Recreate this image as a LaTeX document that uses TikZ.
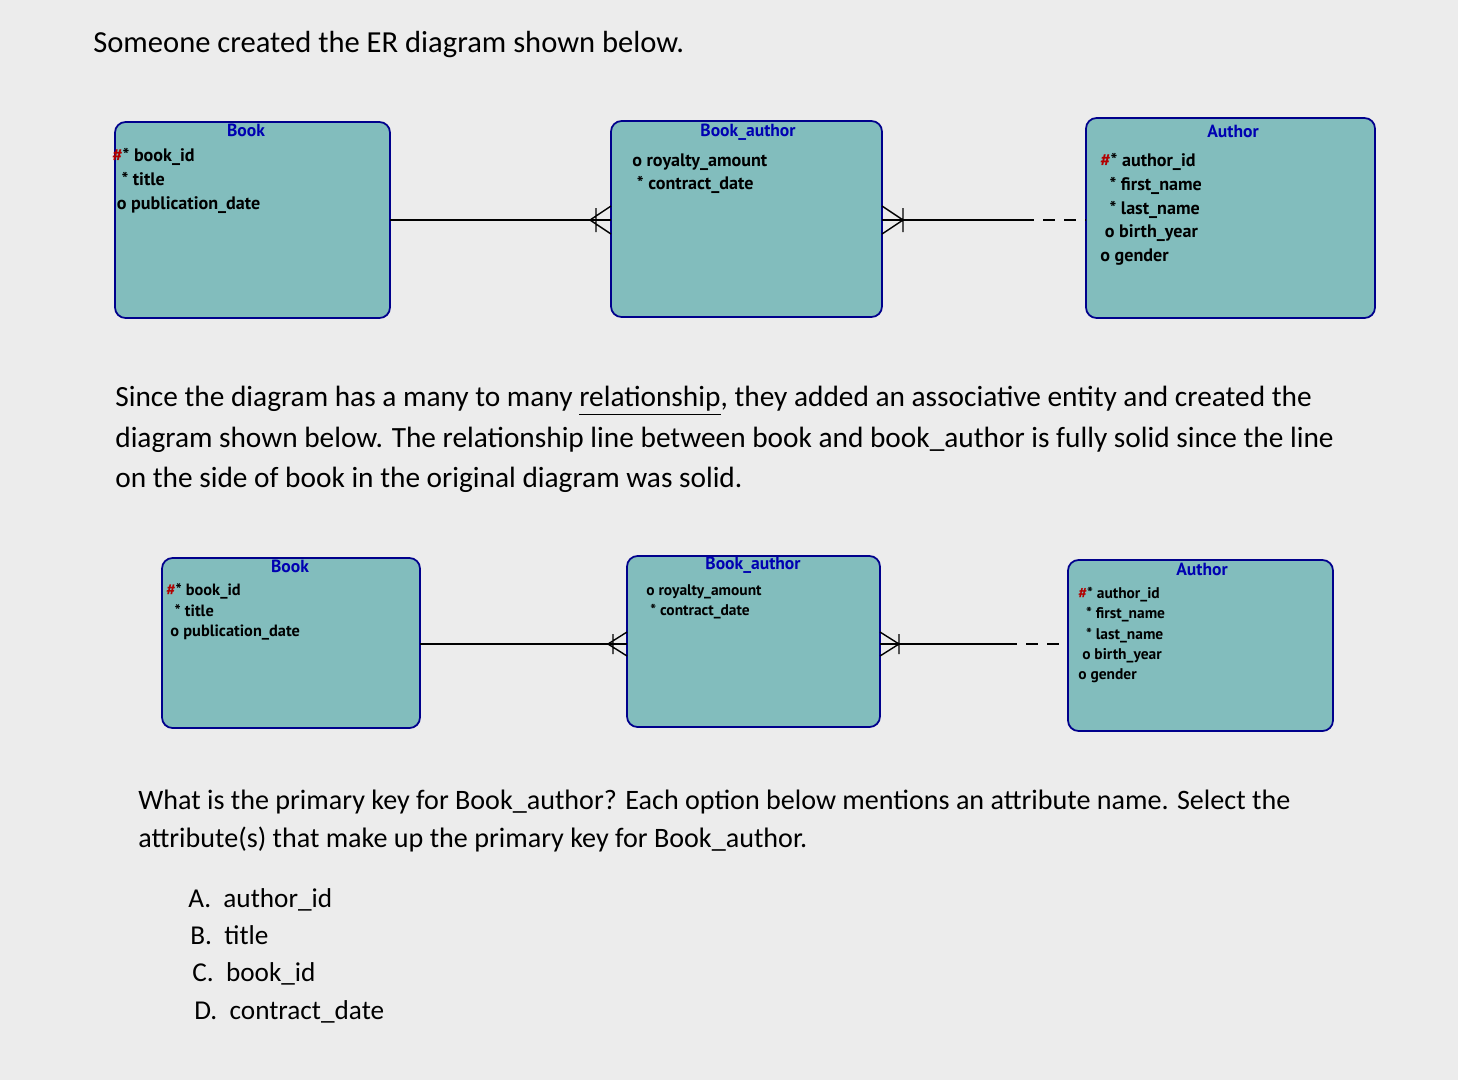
\documentclass[tikz,border=0pt]{standalone}
\usepackage{fontspec}
\setmainfont{Carlito}
\newfontfamily\boxfont{PT Sans}
\begin{document}
\begin{tikzpicture}[x=0.02cm,y=-0.02cm,
  ent/.style={draw=blue!55!black,line width=1pt,fill=teal!35!cyan!40!gray!70,rounded corners=6pt},
  ttl/.style={font=\boxfont\bfseries\fontsize{10}{10}\selectfont,text=blue!70!black,inner sep=0},
  attr/.style={font=\boxfont\bfseries\fontsize{10.3}{13.5}\selectfont,align=left,anchor=north west,inner sep=0},
  para/.style={font=\fontsize{16.7}{23}\selectfont,align=left,anchor=north west,inner sep=0},
  rel/.style={line width=0.8pt}]
\fill[gray!15] (0,0) rectangle (1458,1080);
\useasboundingbox (0,0) rectangle (1458,1080);
\node[anchor=west,font=\fontsize{17.4}{18}\selectfont,inner sep=0] (t1) at (93,45) {Someone created the ER diagram shown below.};
% top diagram
\draw[ent] (115,122) rectangle (390,318);
\node[ttl] (b1t) at (246,130) {Book};
\node[attr] (b1a) at (112,148) {\textcolor{red!70!black}{\#}* book\_id\\ \ \ * title\\ \ o publication\_date};
\draw[ent] (611,121) rectangle (882,317);
\node[ttl] (ba1t) at (748,132) {Book\_author};
\node[attr] (ba1a) at (632,153) {o royalty\_amount\\ \ * contract\_date};
\draw[ent] (1086,118) rectangle (1375,318);
\node[ttl] (a1t) at (1233,131) {Author};
\node[attr] (a1a) at (1100,153) {\textcolor{red!70!black}{\#}* author\_id\\ \ \ * first\_name\\ \ \ * last\_name\\ \ o birth\_year\\ o gender};
\coordinate (l1a) at (390,220); \coordinate (l1b) at (611,220);
\draw[rel] (l1a) -- (l1b);
\draw[rel] (611,206) -- (590,220) -- (611,234) (596,208) -- (596,232);
\coordinate (l2a) at (882,220); \coordinate (l2b) at (1022,220); \coordinate (l2c) at (1086,220);
\draw[rel] (l2a) -- (l2b);
\draw[rel,dash pattern=on 7pt off 5pt] (l2b) -- (l2c);
\draw[rel] (882,206) -- (903,220) -- (882,234) (903,208) -- (903,232);
% paragraph
\node[para] (p) at (115,386) {Since the diagram has a many to many \underline{relationship}, they added an associative entity and created the\\ diagram shown below. The relationship line between book and book\_author is fully solid since the line\\ on the side of book in the original diagram was solid.};
% bottom diagram
\draw[ent] (162,558) rectangle (420,728);
\node[ttl] (b2t) at (290,566) {Book};
\node[attr,font=\boxfont\bfseries\fontsize{9.3}{11.8}\selectfont] (b2a) at (166,583) {\textcolor{red!70!black}{\#}* book\_id\\ \ \ * title\\ \ o publication\_date};
\draw[ent] (627,556) rectangle (880,727);
\node[ttl] (ba2t) at (753,565) {Book\_author};
\node[attr,font=\boxfont\bfseries\fontsize{8.8}{11.3}\selectfont] (ba2a) at (646,584) {o royalty\_amount\\ \ * contract\_date};
\draw[ent] (1068,560) rectangle (1333,731);
\node[ttl] (a2t) at (1202,569) {Author};
\node[attr,font=\boxfont\bfseries\fontsize{8.8}{11.5}\selectfont] (a2a) at (1078,587) {\textcolor{red!70!black}{\#}* author\_id\\ \ \ * first\_name\\ \ \ * last\_name\\ \ o birth\_year\\ o gender};
\coordinate (m1a) at (420,644); \coordinate (m1b) at (627,644);
\draw[rel] (m1a) -- (m1b);
\draw[rel] (627,632) -- (608,644) -- (627,656) (613,634) -- (613,654);
\coordinate (m2a) at (880,644); \coordinate (m2b) at (1005,644); \coordinate (m2c) at (1068,644);
\draw[rel] (m2a) -- (m2b);
\draw[rel,dash pattern=on 7pt off 5pt] (m2b) -- (m2c);
\draw[rel] (880,632) -- (899,644) -- (880,656) (899,634) -- (899,654);
% question
\node[para,font=\fontsize{16}{21.5}\selectfont] (q) at (138,790) {What is the primary key for Book\_author? Each option below mentions an attribute name. Select the\\ attribute(s) that make up the primary key for Book\_author.};
\node[para,font=\fontsize{15.5}{21}\selectfont] (oa) at (188,888) {A.\ \ author\_id};
\node[para,font=\fontsize{15.5}{21}\selectfont] (ob) at (190,925) {B.\ \ title};
\node[para,font=\fontsize{15.5}{21}\selectfont] (oc) at (192,962) {C.\ \ book\_id};
\node[para,font=\fontsize{15.5}{21}\selectfont] (od) at (194,1000) {D.\ \ contract\_date};
\end{tikzpicture}
\end{document}
